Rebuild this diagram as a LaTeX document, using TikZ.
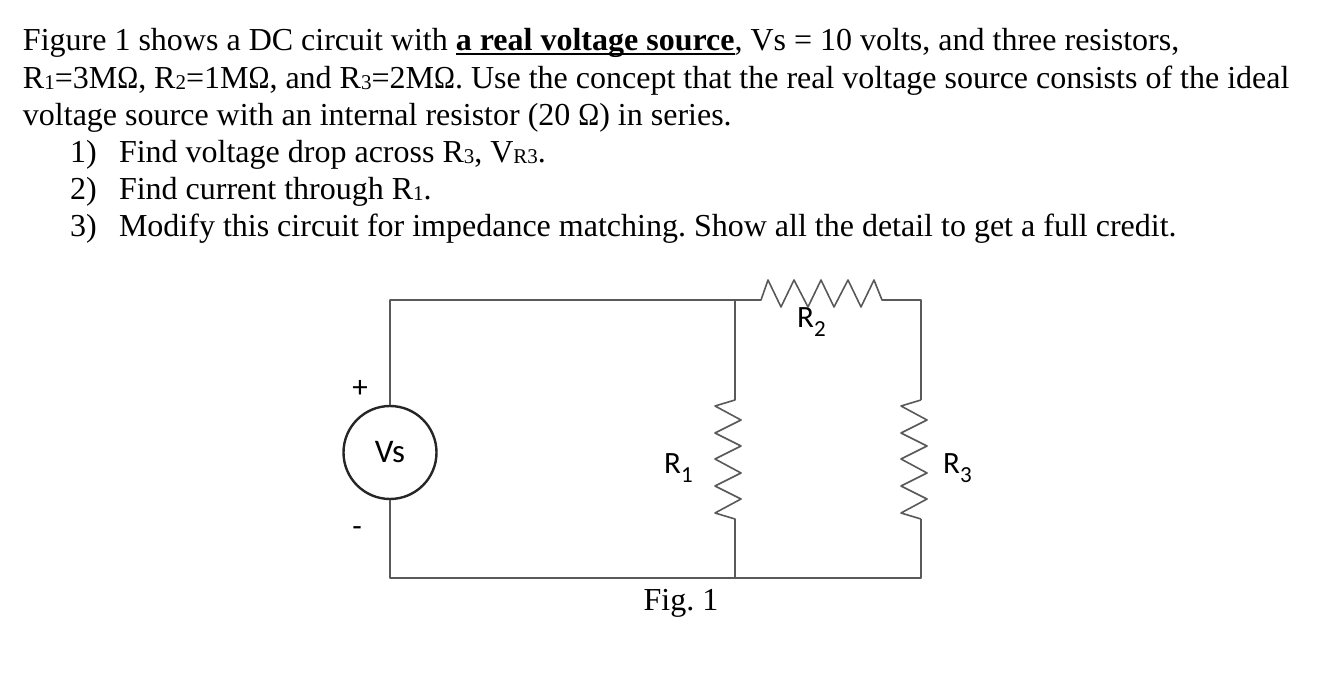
\documentclass[tikz,border=0pt]{standalone}
\usepackage{fontspec}
\setmainfont{Liberation Serif}
\newfontfamily\lblfont{Carlito}
\frenchspacing
\newcommand\sm[1]{{\fontsize{21}{21}\selectfont\raisebox{-1pt}{#1}}}
\newcommand\ohm{\scalebox{0.88}[1]{Ω}}
\newcommand\ulb[1]{\setbox0\hbox{\bfseries #1}\rlap{\rule[-4.5pt]{\wd0}{2.8pt}}\box0}
\newcommand\lsub[1]{\raisebox{-9pt}{\fontsize{23}{23}\selectfont #1}}
\tikzset{
  txt/.style={anchor=base west,inner sep=0pt,outer sep=0pt,font=\fontsize{32}{32}\selectfont},
  lbl/.style={inner sep=0pt,anchor=base west,font=\lblfont\fontsize{31}{31}\selectfont},
  wire/.style={draw=black!65,line width=1.6pt,line join=round},
  src/.style={circle,draw=black!85,line width=2.4pt,minimum size=93pt,inner sep=0pt,font=\lblfont\fontsize{33}{33}\selectfont}
}
\begin{document}
\begin{tikzpicture}[x=1pt,y=-1pt]
\useasboundingbox (0,0) rectangle (1342,692);
\node[txt] (t1) at (23,51) {Figure 1 shows a DC circuit with \ulb{a real voltage source}, Vs = 10 volts, and three resistors,};
\node[txt] (t2) at (23,89) {R\sm{1}=3M\ohm, R\sm{2}=1M\ohm, and R\sm{3}=2M\ohm. Use the concept that the real voltage source consists of the ideal};
\node[txt] (t3) at (23,126) {voltage source with an internal resistor (20 \ohm) in series.};
\node[txt] (n1) at (70,163) {1)};
\node[txt] (l1) at (119,163) {Find voltage drop across R\sm{3}, V\sm{R3}.};
\node[txt] (n2) at (70,200) {2)};
\node[txt] (l2) at (119,200) {Find current through R\sm{1}.};
\node[txt] (n3) at (70,237) {3)};
\node[txt] (l3) at (119,237) {Modify this circuit for impedance matching. Show all the detail to get a full credit.};
\node[src] (vs) at (390,452.5) {\raisebox{-1pt}{Vs}};
\coordinate (tl) at (390,300);
\coordinate (tm) at (735,300);
\coordinate (tr) at (921,300);
\coordinate (bl) at (390,578);
\coordinate (bm) at (735,578);
\coordinate (br) at (921,578);
\coordinate (r2a) at (761,300);
\coordinate (r2b) at (882,300);
\coordinate (r1a) at (735,400);
\coordinate (r1b) at (735,519);
\coordinate (r3a) at (921,400);
\coordinate (r3b) at (921,519);
\draw[wire] (vs.north) -- (tl) -- (tm) -- (r2a)
  -- (768,280) -- (781,307) -- (794,280) -- (808,307) -- (821,280) -- (834,307) -- (848,280) -- (861,307) -- (874,280) -- (r2b) -- (tr) -- (r3a);
\draw[wire] (vs.south) -- (bl) -- (bm) -- (br) -- (r3b);
\draw[wire] (tm) -- (r1a) -- (715,406) -- (741,420) -- (715,433) -- (741,446) -- (715,459) -- (741,473) -- (715,486) -- (741,499) -- (715,513) -- (r1b) -- (bm);
\draw[wire] (r3a) -- (901,406) -- (927,420) -- (901,433) -- (927,446) -- (901,459) -- (927,473) -- (901,486) -- (927,499) -- (901,513) -- (r3b);
\node[lbl] (r1) at (664,474) {R\lsub{1}};
\node[lbl] (r2) at (797,328) {R\lsub{2}};
\node[lbl] (r3) at (943,474) {R\lsub{3}};
\node[lbl,anchor=center] (plus) at (360,389) {+};
\node[lbl,anchor=center] (minus) at (357,532) {-};
\node[txt,anchor=base] (fig) at (681,610) {Fig. 1};
\end{tikzpicture}
\end{document}
